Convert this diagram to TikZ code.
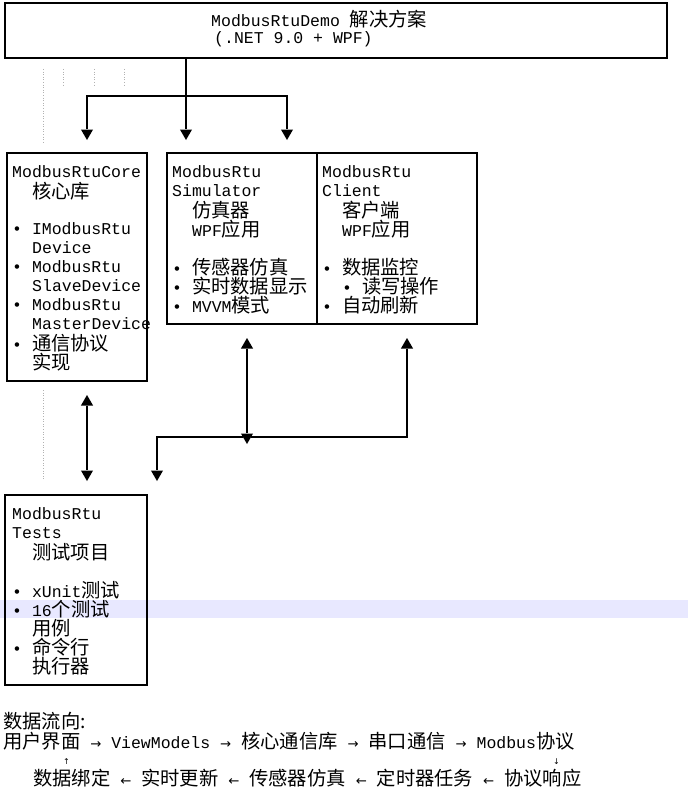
\documentclass[tikz,border=0pt]{standalone}
\usepackage{fontspec}
\usetikzlibrary{shapes.geometric}
\setmainfont{Liberation Mono}
\newfontfamily\cjk{Noto Sans CJK SC}[Scale=1.17]
\newfontfamily\symf{DejaVu Sans}[Scale=0.8]
\newcommand{\zh}[1]{{\cjk #1}}
\newcommand{\ra}{{\symf →}}
\newcommand{\la}{{\symf ←}}
\begin{document}
\begin{tikzpicture}[x=1pt,y=-1pt,
  tx/.style={anchor=west,inner sep=0pt,font=\fontsize{16.5}{19}\selectfont},
  bx/.style={draw=black,line width=1.3pt},
  ln/.style={draw=black,line width=1.2pt},
  tri/.style={fill=black,regular polygon,regular polygon sides=3,inner sep=0pt,minimum size=14pt},
  dn/.style={tri,shape border rotate=180},
  up/.style={tri},
  dot/.style={draw=gray!60,dotted,line width=0.6pt}]
\useasboundingbox (0,0) rectangle (688,789);
\fill[blue!9] (0,600) rectangle (688,618);
% top box
\draw[bx] (5,3) rectangle (667,58);
\node[tx] (t1) at (211,19) {ModbusRtuDemo \zh{解决方案}};
\node[tx] (t2) at (214,39) {(.NET 9.0 + WPF)};
% dotted guides
\draw[dot] (43,69) -- (43,143);
\draw[dot] (63,69) -- (63,86);
\draw[dot] (94,69) -- (94,86);
\draw[dot] (124,69) -- (124,86);
\draw[dot] (43,390) -- (43,480);
% arrows from top
\coordinate (s) at (186,58);
\node[dn] (a1) at (87,133) {};
\node[dn] (a2) at (186,133) {};
\node[dn] (a3) at (287,133) {};
\draw[ln] (s) -- (a2.north);
\draw[ln] (a1.north) -- (87,96) -- (287,96) -- (a3.north);
% box 1
\draw[bx] (7,153) rectangle (147,381);
\node[tx] at (12,172) {ModbusRtuCore};
\node[tx] at (32,191) {\zh{核心库}};
\node[tx] at (12,229) {• IModbusRtu};
\node[tx] at (32,248) {Device};
\node[tx] at (12,267) {• ModbusRtu};
\node[tx] at (32,286) {SlaveDevice};
\node[tx] at (12,305) {• ModbusRtu};
\node[tx] at (32,324) {MasterDevice};
\node[tx] at (12,343) {• \zh{通信协议}};
\node[tx] at (32,362) {\zh{实现}};
% box 2
\draw[bx] (167,153) rectangle (317,324);
\node[tx] at (172,172) {ModbusRtu};
\node[tx] at (172,191) {Simulator};
\node[tx] at (192,210) {\zh{仿真器}};
\node[tx] at (192,229) {WPF\zh{应用}};
\node[tx] at (172,267) {• \zh{传感器仿真}};
\node[tx] at (172,286) {• \zh{实时数据显示}};
\node[tx] at (172,305) {• MVVM\zh{模式}};
% box 3
\draw[bx] (317,153) rectangle (477,324);
\node[tx] at (322,172) {ModbusRtu};
\node[tx] at (322,191) {Client};
\node[tx] at (342,210) {\zh{客户端}};
\node[tx] at (342,229) {WPF\zh{应用}};
\node[tx] at (322,267) {• \zh{数据监控}};
\node[tx] at (342,286) {• \zh{读写操作}};
\node[tx] at (322,305) {• \zh{自动刷新}};
% middle connectors
\node[up] (u2) at (247,345) {};
\node[up] (u3) at (407,345) {};
\node[dn] (d2) at (247,437) {};
\draw[ln] (u2.south) -- (d2.north);
\draw[ln] (u3.south) -- (407,437) -- (d2.east);
\node[dn] (d4) at (157,474) {};
\draw[ln] (d2.west) -- (157,437) -- (d4.north);
\node[up] (u1) at (87,402) {};
\node[dn] (d1) at (87,474) {};
\draw[ln] (u1.south) -- (d1.north);
% box 4
\draw[bx] (5,495) rectangle (147,685);
\node[tx] at (12,514) {ModbusRtu};
\node[tx] at (12,533) {Tests};
\node[tx] at (32,552) {\zh{测试项目}};
\node[tx] at (12,590) {• xUnit\zh{测试}};
\node[tx] at (12,609) {• 16\zh{个测试}};
\node[tx] at (32,628) {\zh{用例}};
\node[tx] at (12,647) {• \zh{命令行}};
\node[tx] at (32,666) {\zh{执行器}};
% data flow
\node[tx] at (3,721) {\zh{数据流向:}};
\node[tx] at (3,741) {\zh{用户界面} \ra{} ViewModels \ra{} \zh{核心通信库} \ra{} \zh{串口通信} \ra{} Modbus\zh{协议}};
\node[tx,font=\fontsize{10}{10}\selectfont] at (63,762) {\symf ↑};
\node[tx,font=\fontsize{10}{10}\selectfont] at (553,762) {\symf ↓};
\node[tx] at (33,778) {\zh{数据绑定} \la{} \zh{实时更新} \la{} \zh{传感器仿真} \la{} \zh{定时器任务} \la{} \zh{协议响应}};
\end{tikzpicture}
\end{document}
